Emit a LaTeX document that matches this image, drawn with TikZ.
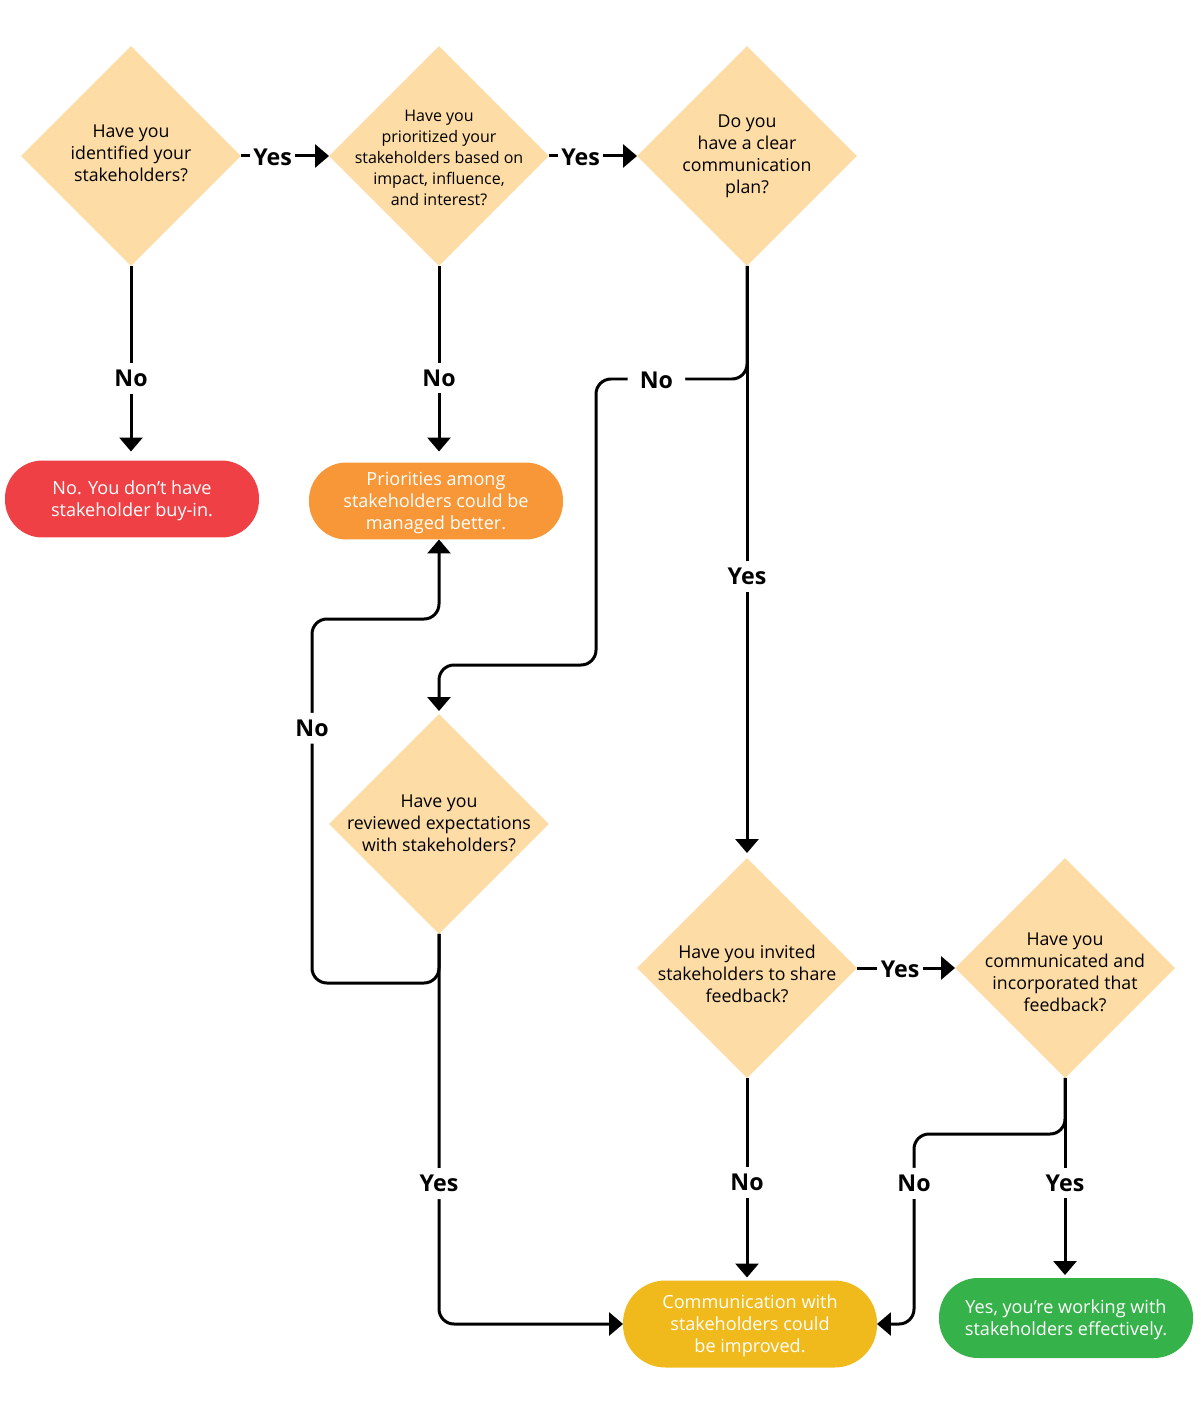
\documentclass[tikz,border=0pt]{standalone}
\usepackage{fontspec}
\setmainfont{Open Sans}
\usetikzlibrary{shapes.geometric,arrows.meta}
\definecolor{dia}{HTML}{FDDCA5}
\definecolor{cred}{HTML}{EF4145}
\definecolor{corange}{HTML}{F79737}
\definecolor{cyellow}{HTML}{F0BA1C}
\definecolor{cgreen}{HTML}{36B24A}
\begin{document}
\begin{tikzpicture}[x=0.02cm,y=-0.02cm,
 dec/.style={diamond, aspect=1, fill=dia, minimum width=4.4cm, minimum height=4.4cm, inner sep=0pt, outer sep=0pt},
 dtext/.style={align=center, font=\fontsize{10.1}{12.5}\selectfont},
 dsmall/.style={align=center, font=\fontsize{9.1}{11.9}\selectfont},
 term/.style={rectangle, rounded corners=0.75cm, minimum width=5.08cm, minimum height=1.54cm, inner sep=0pt, outer sep=0pt, text=white, align=center, font=\fontsize{10.3}{12.5}\selectfont},
 conn/.style={line width=0.06cm, -{Triangle[width=0.46cm,length=0.28cm]}},
 lbl/.style={fill=white, font=\bfseries\fontsize{13.2}{14}\selectfont, inner xsep=2pt, inner ysep=4pt},
]
\fill[white] (0,0) rectangle (1200,1415);
% decisions
\node[dec] (d1) at (131,156) {};
\node[dtext] (d1t) at (131,153) {Have you\\identified your\\stakeholders?};
\node[dec] (d2) at (439,156) {};
\node[dsmall] (d2t) at (439,158) {Have you\\prioritized your\\stakeholders based on\\impact, influence,\\and interest?};
\node[dec] (d3) at (747,156) {};
\node[dtext] (d3t) at (747,156) {Do you\\have a clear\\communication\\plan?};
\node[dec] (d4) at (439,824) {};
\node[dtext] (d4t) at (439,823) {Have you\\reviewed expectations\\with stakeholders?};
\node[dec] (d5) at (747,968) {};
\node[dtext] (d5t) at (747,974) {Have you invited\\stakeholders to share\\feedback?};
\node[dec] (d6) at (1065,968) {};
\node[dtext] (d6t) at (1065,972) {Have you\\communicated and\\incorporated that\\feedback?};
% terminals
\node[term, fill=cred] (t1) at (132,499) {};
\node[term, fill=none, text=white] (t1t) at (132,501) {No. You don’t have\\stakeholder buy-in.};
\node[term, fill=corange] (t2) at (436,501) {};
\node[term, fill=none, text=white] (t2t) at (436,503) {Priorities among\\stakeholders could be\\managed better.};
\node[term, fill=cyellow, minimum height=1.74cm, rounded corners=0.85cm] (t3) at (750,1324) {};
\node[term, fill=none, text=white] (t3t) at (750,1326) {Communication with\\stakeholders could\\be improved.};
\node[term, fill=cgreen, minimum height=1.6cm, rounded corners=0.78cm] (t4) at (1066,1318) {};
\node[term, fill=none, text=white] (t4t) at (1066,1320) {Yes, you’re working with\\stakeholders effectively.};
% connectors
\draw[conn] (d1.east) -- node[lbl,pos=0.36,yshift=-1pt]{Yes} (d2.west);
\draw[conn] (d2.east) -- node[lbl,pos=0.36,yshift=-1pt]{Yes} (d3.west);
\draw[conn, shorten >=0.18cm] (d1.south) -- node[lbl,pos=0.58]{No} (d1.south |- t1.north);
\draw[conn, shorten >=0.22cm] (d2.south) -- node[lbl,pos=0.57]{No} (d2.south |- t2.north);
\draw[conn, shorten >=0.1cm] (d3.south) -- node[lbl,pos=0.524]{Yes} (d5.north);
\draw[conn, rounded corners=0.3cm, shorten >=0.06cm] (d3.south) -- (747,379) -- node[lbl, inner xsep=7pt, pos=0.6, yshift=-1pt]{No} (596,379) -- (596,665) -- (439,665) -- (d4.north);
\draw[conn, rounded corners=0.3cm] (d4.south) -- (439,983) -- (312,983) -- node[lbl,pos=0.7]{No} (312,619) -- (439,619) -- (d4.south |- t2.south);
\draw[conn, rounded corners=0.3cm] (d4.south) -- node[lbl,pos=0.64]{Yes} (439,1324) -- (t3.west);
\draw[conn, shorten >=0.06cm] (d5.south) -- node[lbl,pos=0.517]{No} (d5.south |- t3.north);
\draw[conn] (d5.east) -- node[lbl,pos=0.44,yshift=-1pt]{Yes} (d6.west);
\draw[conn, shorten >=0.06cm] (d6.south) -- node[lbl,pos=0.525]{Yes} (d6.south |- t4.north);
\draw[conn, rounded corners=0.3cm] (d6.south) -- (1065,1134) -- (914,1134) -- node[lbl,pos=0.26]{No} (914,1324) -- (t3.east);
\end{tikzpicture}
\end{document}
